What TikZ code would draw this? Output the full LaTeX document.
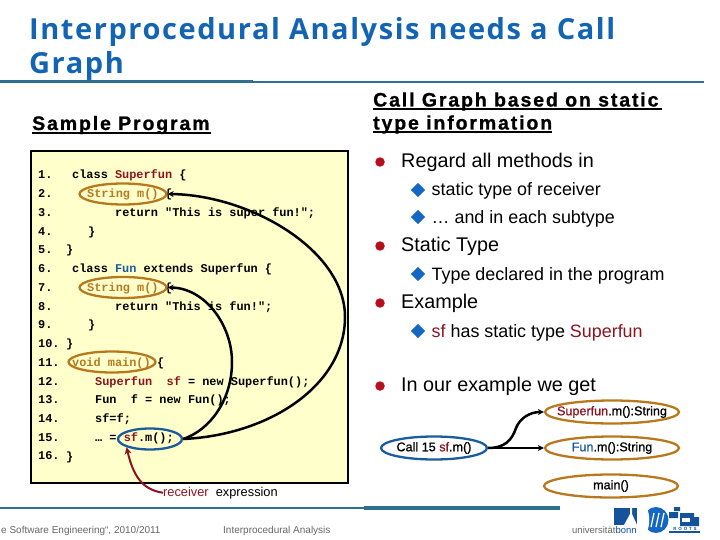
\documentclass[tikz,border=0pt]{standalone}
\usepackage{fontspec}
\setmainfont{Liberation Sans}
\setmonofont{Liberation Mono}
\newfontfamily\titlefont{Open Sans}
\usetikzlibrary{arrows.meta,shapes.geometric,positioning}
\definecolor{titleblue}{HTML}{1464B4}
\definecolor{rulecol}{HTML}{2E7090}
\definecolor{codebg}{HTML}{FFFFCC}
\definecolor{redtxt}{HTML}{8C1420}
\definecolor{bluetxt}{HTML}{1A5C9C}
\definecolor{ochre}{HTML}{B8791E}
\definecolor{dotred}{HTML}{B80F1E}
\definecolor{diablue}{HTML}{1468C4}
\definecolor{logoblue}{HTML}{14529C}
\newcommand{\rd}[1]{\textcolor{redtxt}{#1}}
\newcommand{\bl}[1]{\textcolor{bluetxt}{#1}}

\begin{document}
\begin{tikzpicture}
  [x=1pt,y=-1pt,
   codeline/.style={anchor=base west,inner sep=0,font=\ttfamily\bfseries\fontsize{11.9}{14}\selectfont},
   heading/.style={anchor=base west,inner sep=0,font=\bfseries\fontsize{19.5}{22}\selectfont\addfontfeature{LetterSpace=9.6,FakeBold=1}},
   title/.style={anchor=base west,inner sep=0,text=titleblue,font=\titlefont\bfseries\fontsize{29}{32}\selectfont\addfontfeature{LetterSpace=5.4}},
   mainitem/.style={anchor=base west,inner sep=0,font=\fontsize{19.8}{24}\selectfont},
   subitem/.style={anchor=base west,inner sep=0,font=\fontsize{17.9}{20}\selectfont},
   dot/.style={circle,fill=dotred,inner sep=0,minimum size=9.5},
   gem/.style={diamond,fill=diablue,inner sep=0,minimum width=14.5,minimum height=14.5},
   ring/.style={ellipse,draw=#1,line width=2.3,inner sep=0,minimum height=21},
   callnode/.style={ellipse,draw=#1,line width=2.3,inner sep=0,minimum height=23,
     font=\fontsize{12.6}{14}\selectfont\addfontfeature{FakeBold=1}},
   callarrow/.style={-{Stealth[length=6,width=6]},line width=2.5},
   foot/.style={anchor=base west,inner sep=0,text=black!60,font=\fontsize{10}{12}\selectfont}]
  \useasboundingbox (0,0) rectangle (720,540);

  % title and rules
  \node[title] (title1) at (29,40) {Interprocedural Analysis needs a Call};
  \node[title] (title2) at (29,74) {Graph};
  \fill[rulecol] (0,80.5) rectangle (253,83.5);
  \fill[rulecol] (253,81) rectangle (704,83);
  \fill[rulecol] (0,507) rectangle (364,509);
  \fill[rulecol] (364,506) rectangle (560,510);

  % headings
  \node[heading] (sample) at (32,130) {Sample Program};
  \node[heading] (graphhead) at (373,106.5) {Call Graph based on static};
  \node[heading] (typehead) at (373,129.5) {type information};
  \draw[line width=1.5] (32,133) -- (211,133);
  \draw[line width=1.5] (373,109) -- (662,109);
  \draw[line width=1.5] (373,132) -- (552,132);

  % the program
  \node[draw=black,line width=2,fill=codebg,minimum width=317,minimum height=332,inner sep=0] (codebox) at (189.5,317) {};
  \foreach \n in {1,...,16}
    \node[codeline] (num\n) at (38,{179+(\n-1)*18.73}) {\n.};
  \node[codeline] (line1) at (72,179) {class \rd{Superfun} \{};
  \node[codeline] (line2) at (165,197.7) {\{};
  \node[codeline] (line3) at (115,216.5) {return "This is super fun!";};
  \node[codeline] (line4) at (88,235.2) {\}};
  \node[codeline] (line5) at (66,253.9) {\}};
  \node[codeline] (line6) at (72,272.7) {class \bl{Fun} extends Superfun \{};
  \node[codeline] (line7) at (165,291.4) {\{};
  \node[codeline] (line8) at (115,310.1) {return "This is fun!";};
  \node[codeline] (line9) at (88,328.8) {\}};
  \node[codeline] (line10) at (66,347.6) {\}};
  \node[codeline] (line11) at (157,366.3) {\{};
  \node[codeline] (line12) at (95,385) {\rd{Superfun}\ \ \rd{sf} = new Superfun();};
  \node[codeline] (line13) at (95,403.8) {Fun\ \ f = new Fun();};
  \node[codeline] (line14) at (95,422.5) {sf=f;};
  \node[codeline] (line15) at (95,441.2) {… = \rd{sf}.m();};
  \node[codeline] (line16) at (66,460) {\}};
  \node[codeline,text=ochre] (text2) at (87,197.7) {String m()};
  \node[codeline,text=ochre] (text7) at (87,291.4) {String m()};
  \node[codeline,text=ochre] (text11) at (72,366.3) {void main()};

  \node[ring=ochre,minimum width=87] (superm) at (123,194) {};
  \node[ring=ochre,minimum width=87] (funm) at (123,287.5) {};
  \node[ring=ochre,minimum width=87] (mainm) at (112,362) {};
  \node[ring=bluetxt,minimum width=64] (sfcall) at (150,439) {};

  \draw[callarrow] (sfcall.east) .. controls (270,435) and (345,385) .. (345,317)
     .. controls (345,250) and (250,195) .. (superm.east);
  \draw[callarrow] (sfcall.east) .. controls (210,430) and (232,400) .. (232,362)
     .. controls (232,325) and (205,288) .. (funm.east);

  \node[anchor=base west,inner sep=0,font=\fontsize{12.8}{14}\selectfont] (recv) at (163,496) {\rd{receiver}\ \ expression};
  \draw[-{Stealth[length=7,width=7]},line width=2,redtxt] (recv.west) .. controls (142,490) and (133,475) .. (sfcall.south west);

  % right column
  \foreach \ypos in {162,246,303,386}
    \node[dot] (dot\ypos) at (380,\ypos) {};
  \foreach \ypos in {190,217,274,331}
    \node[gem] (gem\ypos) at (418,\ypos) {};
  \node[mainitem] (item1) at (401,167.5) {Regard all methods in};
  \node[subitem] (sub1) at (431.5,196) {static type of receiver};
  \node[subitem] (sub2) at (431.5,223) {… and in each subtype};
  \node[mainitem] (item2) at (401,251.5) {Static Type};
  \node[subitem] (sub3) at (431.5,280) {Type declared in the program};
  \node[mainitem] (item3) at (401,308.5) {Example};
  \node[subitem] (sub4) at (431.5,337) {\rd{sf} has static type \rd{Superfun}};
  \node[mainitem] (item4) at (401,391.5) {In our example we get};

  % the call graph
  \node[callnode=ochre,minimum width=134,inner xsep=-9] (gsuper) at (612,412) {\rd{Superfun}.m():String};
  \node[callnode=ochre,minimum width=134] (gfun) at (612,448) {\bl{Fun}.m():String};
  \node[callnode=ochre,minimum width=134] (gmain) at (611,486) {main()};
  \node[callnode=bluetxt,minimum width=105] (gcall) at (434,448) {Call 15 \rd{sf}.m()};
  \draw[callarrow] (gcall) -- (gfun);
  \draw[callarrow] (gcall.east) .. controls (505,448) and (512,440) .. (516,428)
     .. controls (520,418) and (530,412) .. (gsuper.west);

  % footer
  \node[foot] (foot1) at (1,533.5) {e Software Engineering“, 2010/2011};
  \node[foot] (foot2) at (223,533.5) {Interprocedural Analysis};
  \node[anchor=base west,inner sep=0,text=black!60,font=\fontsize{9.5}{10}\selectfont] (unibonn) at (572,533) {universität\textcolor{logoblue}{bonn}};

  % logos
  \fill[logoblue] (614,508) rectangle (637,525);
  \fill[white] (630,508) -- (632,508) -- (632,514) -- (637,525) -- (624,525) -- (630,514) -- cycle;
  \fill[diablue] (656,520) ellipse (12.5 and 13);
  \fill[white] (647,508) .. controls (641,516) and (641,524) .. (647,532) .. controls (650,524) and (650,516) .. (647,508);
  \foreach \xpos in {652,657,662}
    \draw[white,line width=1.3] (\xpos+2,513) -- (\xpos-1,527);
  \fill[logoblue] (669,512) rectangle (678,518) (674,507) rectangle (680,511)
     (680,517) rectangle (699,526) (680,513) rectangle (694,517);
  \fill[white] (682,518) rectangle (690,522);
  \node[anchor=base,inner sep=0,text=logoblue,font=\bfseries\fontsize{4.5}{5}\selectfont\addfontfeature{LetterSpace=40}] (roots) at (685,530) {ROOTS};
  \fill[logoblue] (669,531) rectangle (700,532.5);
\end{tikzpicture}
\end{document}
